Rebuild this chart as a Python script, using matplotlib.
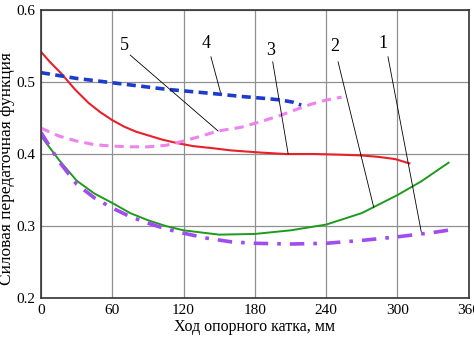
import matplotlib
matplotlib.use("Agg")
import matplotlib.pyplot as plt

plt.rcParams['font.family'] = ['Liberation Serif', 'DejaVu Serif']

# curve 1 (purple dash-dot)
x1 = [0, 15, 30, 45, 60, 75, 90, 105, 120, 140, 160, 180, 210, 240, 270, 300, 330, 350]
y1 = [0.430, 0.390, 0.358, 0.339, 0.325, 0.313, 0.304, 0.296, 0.290, 0.283, 0.278, 0.276, 0.275, 0.276, 0.280, 0.285, 0.291, 0.296]
# curve 2 (green)
x2 = [0, 15, 30, 45, 60, 75, 90, 105, 120, 150, 180, 210, 240, 270, 300, 320, 343]
y2 = [0.425, 0.392, 0.363, 0.345, 0.332, 0.318, 0.308, 0.300, 0.294, 0.288, 0.289, 0.294, 0.302, 0.318, 0.343, 0.362, 0.388]
# curve 3 (red)
x3 = [0, 8, 17, 29, 40, 50, 60, 70, 80, 90, 102, 115, 128, 145, 160, 185, 206, 230, 253, 270, 284, 298, 310]
y3 = [0.542, 0.527, 0.512, 0.489, 0.471, 0.458, 0.447, 0.438, 0.431, 0.426, 0.420, 0.415, 0.411, 0.408, 0.405, 0.402, 0.400, 0.400, 0.399, 0.398, 0.396, 0.393, 0.387]
# curve 4 (blue dashed)
x4 = [0, 30, 60, 105, 151, 168, 190, 202, 212, 219]
y4 = [0.513, 0.505, 0.499, 0.490, 0.483, 0.480, 0.477, 0.475, 0.472, 0.468]
# curve 5 (violet dashed)
x5 = [0, 15, 30, 45, 60, 75, 90, 105, 120, 135, 149, 168, 185, 202, 215, 227, 240, 253]
y5 = [0.436, 0.425, 0.418, 0.413, 0.411, 0.410, 0.410, 0.412, 0.418, 0.425, 0.432, 0.437, 0.445, 0.454, 0.462, 0.469, 0.475, 0.479]

labels = ['1', '2', '3', '4', '5']
label_pos = [(288, 0.553), (247.6, 0.549), (193.5, 0.544), (139, 0.553), (70, 0.551)]
leader_start = [(292, 0.535), (250, 0.528), (195, 0.528), (143, 0.535), (75, 0.5375)]
leader_end = [(320, 0.292), (280, 0.326), (208, 0.400), (151, 0.486), (149, 0.432)]

fig = plt.figure(figsize=(4.74, 3.4), dpi=100)
ax = fig.add_axes([0.0865, 0.1235, 0.9025, 0.847])

ax.plot(x2, y2, color='#1e9a1e', lw=1.4)
ax.plot(x1, y1, color='#a04cf0', lw=2.6, linestyle=(0, (4, 2.5, 1, 2.5)))
ax.plot(x3, y3, color='#e8202a', lw=1.5)
ax.plot(x5, y5, color='#ee82ee', lw=2.2, linestyle=(0, (3, 2)))
ax.plot(x4, y4, color='#1e3ccc', lw=2.6, linestyle=(0, (2.5, 1.5)))

for lab, p, s, e in zip(labels, label_pos, leader_start, leader_end):
    ax.text(p[0], p[1], lab, fontsize=13, ha='center', va='center')
    ax.plot([s[0], e[0]], [s[1], e[1]], color='black', lw=0.6)

ax.set_xlim(0, 360)
ax.set_ylim(0.2, 0.6)
ax.set_xticks([0, 60, 120, 180, 240, 300, 360])
ax.set_yticks([0.2, 0.3, 0.4, 0.5, 0.6])
ax.set_yticklabels(['0.2', '0.3', '0.4', '0.5', '0.6'])
ax.tick_params(length=0, labelsize=11, pad=4)
ax.grid(True, color='#909090', lw=0.9)
for sp in ax.spines.values():
    sp.set_color('#333333')
    sp.set_linewidth(1.2)

ax.set_xlabel('Ход опорного катка, мм', fontsize=11.5, labelpad=2)
ax.set_ylabel('Силовая передаточная функция', fontsize=12.5)
ax.yaxis.set_label_coords(-0.061, 0.45)

fig.savefig('out.png', dpi=100)
